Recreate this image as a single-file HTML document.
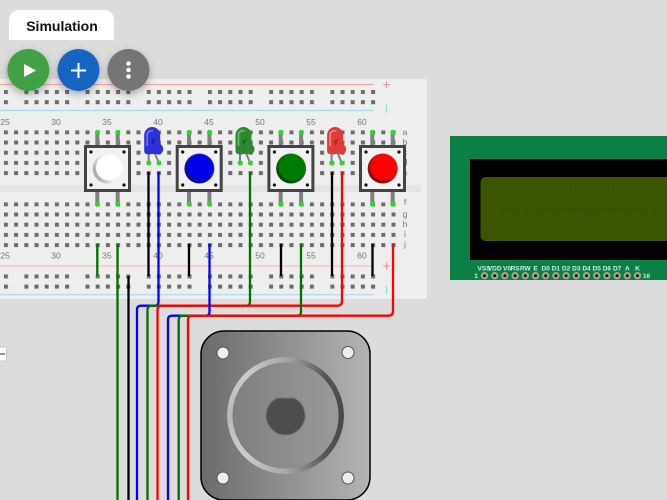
<!DOCTYPE html>
<html><head><meta charset="utf-8"><style>
html,body{margin:0;padding:0;width:667px;height:500px;overflow:hidden;background:#dcdcdc}
svg{display:block;position:absolute;left:0;top:0}
text{font-family:"Liberation Sans",sans-serif}
#ringdiv{position:absolute;left:227px;top:357px;width:117px;height:117px;border-radius:50%;
background:conic-gradient(#a8a8a8 0deg,#555 45deg,#484848 90deg,#555 135deg,#a8a8a8 180deg,#cccccc 225deg,#b8b8b8 270deg,#cccccc 315deg,#a8a8a8 360deg);
-webkit-mask-image:radial-gradient(circle,transparent 52.8px,#000 53.3px);mask-image:radial-gradient(circle,transparent 52.8px,#000 53.3px)}
</style></head><body>
<svg width="667" height="500" viewBox="0 0 667 500" xmlns="http://www.w3.org/2000/svg">
<defs>
<pattern id="u" patternUnits="userSpaceOnUse" x="3.9" y="130.300" width="10.2" height="10.2"><rect width="4" height="4" fill="#6c6c6c"/></pattern>
<pattern id="l" patternUnits="userSpaceOnUse" x="3.9" y="202.300" width="10.2" height="10.2"><rect width="4" height="4" fill="#6c6c6c"/></pattern>
<pattern id="t" patternUnits="userSpaceOnUse" x="3.9" y="90" width="10.2" height="10.2"><rect width="4" height="4" fill="#6c6c6c"/></pattern>
<pattern id="b" patternUnits="userSpaceOnUse" x="3.9" y="274.400" width="10.2" height="10.2"><rect width="4" height="4" fill="#6c6c6c"/></pattern>
<linearGradient id="m" x1="0" x2="1" y1="0" y2="0"><stop offset="0" stop-color="#6b6b6b"/><stop offset="1" stop-color="#b4b4b4"/></linearGradient>
<linearGradient id="m2" x1="0" x2="1" y1="0" y2="0"><stop offset="0" stop-color="#7f7f7f"/><stop offset="1" stop-color="#9a9a9a"/></linearGradient>
<linearGradient id="wb" x1="0" x2="1" y1="0.8" y2="0.3"><stop offset="0" stop-color="#999"/><stop offset="0.5" stop-color="#eee"/><stop offset="1" stop-color="#fff"/></linearGradient>
<linearGradient id="bb" x1="0" x2="1" y1="1" y2="0"><stop offset="0" stop-color="#00006a"/><stop offset="1" stop-color="#3030ff"/></linearGradient>
<linearGradient id="gb" x1="0" x2="1" y1="1" y2="0"><stop offset="0" stop-color="#003c00"/><stop offset="1" stop-color="#2a8a2a"/></linearGradient>
<linearGradient id="rb" x1="0" x2="1" y1="1" y2="0"><stop offset="0" stop-color="#6a0000"/><stop offset="1" stop-color="#ff3030"/></linearGradient>
<filter id="s" x="-40%" y="-40%" width="180%" height="190%"><feDropShadow dx="0" dy="3" stdDeviation="4" flood-color="#000" flood-opacity="0.3"/></filter>
<g id="btnpins">
<rect x="11.300" y="-13" width="4" height="14" fill="#808080"/><rect x="31.700" y="-13" width="4" height="14" fill="#808080"/>
<rect x="11.300" y="46" width="4" height="13" fill="#808080"/><rect x="31.700" y="46" width="4" height="13" fill="#808080"/>
<circle cx="13.300" cy="-12.700" r="2.400" fill="#22dd22"/><circle cx="33.700" cy="-12.700" r="2.400" fill="#22dd22"/>
<circle cx="13.300" cy="59.300" r="2.400" fill="#22dd22"/><circle cx="33.700" cy="59.300" r="2.400" fill="#22dd22"/>
<rect x="1.500" y="1.500" width="44" height="44" fill="#f2f2f2" stroke="#444" stroke-width="3"/>
<circle cx="7" cy="7" r="1.600" fill="#111"/><circle cx="40" cy="7" r="1.600" fill="#111"/><circle cx="7" cy="40" r="1.600" fill="#111"/><circle cx="40" cy="40" r="1.600" fill="#111"/>
</g>
</defs>

<rect width="667" height="500" fill="#dcdcdc"/>
<rect x="-6" y="79" width="433" height="220" rx="3" fill="#eeeeee"/>
<rect x="0" y="185" width="421" height="7" fill="#e4e4e4"/>
<path d="M0 84.500H374" stroke="#f4a8a8" stroke-width="1.200"/>
<path d="M0 110.500H374" stroke="#a6dcf0" stroke-width="1.200"/>
<path d="M0 266H374" stroke="#f4c0c0" stroke-width="1.200"/>
<path d="M0 294.700H374" stroke="#a6dcf0" stroke-width="1.200"/>
<path d="M383 84.500h7M386.500 81v7M383 266h7M386.500 262.500v7" stroke="#f09090" stroke-width="1"/>
<path d="M386.500 105v8M386.500 286v8" stroke="#90d8f0" stroke-width="1.200"/>

<rect x="3.900" y="130.300" width="392" height="46" fill="url(#u)"/>
<rect x="3.900" y="202.300" width="392" height="46" fill="url(#l)"/>
<g>
<rect x="3.900" y="90" width="5" height="15" fill="url(#t)"/>
<rect x="24.300" y="90" width="46" height="15" fill="url(#t)"/>
<rect x="85.500" y="90" width="46" height="15" fill="url(#t)"/>
<rect x="146.700" y="90" width="46" height="15" fill="url(#t)"/>
<rect x="207.900" y="90" width="46" height="15" fill="url(#t)"/>
<rect x="269.100" y="90" width="46" height="15" fill="url(#t)"/>
<rect x="330.300" y="90" width="46" height="15" fill="url(#t)"/>
<rect x="3.900" y="274.400" width="5" height="15" fill="url(#b)"/>
<rect x="24.300" y="274.400" width="46" height="15" fill="url(#b)"/>
<rect x="85.500" y="274.400" width="46" height="15" fill="url(#b)"/>
<rect x="146.700" y="274.400" width="46" height="15" fill="url(#b)"/>
<rect x="207.900" y="274.400" width="46" height="15" fill="url(#b)"/>
<rect x="269.100" y="274.400" width="46" height="15" fill="url(#b)"/>
<rect x="330.300" y="274.400" width="46" height="15" fill="url(#b)"/>
</g>

<g font-size="8.500" fill="#777" text-anchor="middle">
<text x="5" y="125">25</text><text x="56" y="125">30</text><text x="107" y="125">35</text><text x="158" y="125">40</text><text x="209" y="125">45</text><text x="260" y="125">50</text><text x="311" y="125">55</text><text x="362" y="125">60</text>
<text x="5" y="258.500">25</text><text x="56" y="258.500">30</text><text x="107" y="258.500">35</text><text x="158" y="258.500">40</text><text x="209" y="258.500">45</text><text x="260" y="258.500">50</text><text x="311" y="258.500">55</text><text x="362" y="258.500">60</text>
<text x="405" y="135">a</text><text x="405" y="145">b</text><text x="405" y="155">c</text><text x="405" y="165">d</text><text x="405" y="176">e</text>
<text x="405" y="205">f</text><text x="405" y="217">g</text><text x="405" y="227">h</text><text x="405" y="237">i</text><text x="405" y="247">j</text>
</g>

<g fill="none" stroke-width="2.300">
<path d="M97.300 244V276" stroke="#007000"/>
<path d="M117.500 244V500" stroke="#007000"/>
<path d="M128.500 276V500" stroke="#000"/>
<path d="M148.500 172V276" stroke="#000"/>
<path d="M189 244V276" stroke="#000"/>
<path d="M281 244V276" stroke="#000"/>
<path d="M332 172V276" stroke="#000"/>
<path d="M372.500 244V276" stroke="#000"/>
<path d="M158.500 172V302q0 3.700-3.700 3.700H141q-4 0-4 4V500" stroke="#0000ff"/>
<path d="M250 172V302q0 3.700-3.700 3.700H151.500q-4 0-4 4V500" stroke="#007000"/>
<path d="M342 172V301q0 4.700-4.700 4.700H161.500q-4 0-4 4V500" stroke="#ff0000"/>
<path d="M209.500 244V312q0 3.700-3.700 3.700H172q-4 0-4 4V500" stroke="#0000ff"/>
<path d="M301 244V312q0 3.700-3.700 3.700H182.700q-4 0-4 4V500" stroke="#007000"/>
<path d="M393 244V311q0 4.700-4.700 4.700H192q-4 0-4 4V500" stroke="#ff0000"/>
</g>

<g transform="translate(84 145)"><use href="#btnpins"/><circle cx="23.700" cy="23.500" r="15" fill="url(#wb)"/><circle cx="24.500" cy="22.800" r="12.500" fill="#fff"/></g>
<g transform="translate(175.700 145)"><use href="#btnpins"/><circle cx="23.700" cy="23.500" r="15" fill="url(#bb)"/><circle cx="24.500" cy="22.500" r="13" fill="#0000e8"/></g>
<g transform="translate(267.400 145)"><use href="#btnpins"/><circle cx="23.700" cy="23.500" r="15" fill="url(#gb)"/><circle cx="24.500" cy="22.500" r="13" fill="#007a00"/></g>
<g transform="translate(359 145)"><use href="#btnpins"/><circle cx="23.700" cy="23.500" r="15" fill="url(#rb)"/><circle cx="24.500" cy="22.500" r="13" fill="#ff0000"/></g>

<g transform="translate(148.700 163)">
<path d="M0 0L0-10M10.200 0L6-10" stroke="#808080" stroke-width="2" fill="none"/>
<path d="M-4.500-12V-28a8 8 0 0 1 16 0V-19q3 2 3 5.500t-4 4.500H-1.500q-3 0-3-3z" fill="#3030d8"/>
<path d="M-1.500-17V-29a4.500 5 0 0 1 6-3" stroke="#7a7af0" stroke-width="1.500" fill="none"/>
<path d="M2-22l5-3-3 8z" fill="#2020a0"/>
<circle cx="0" cy="0" r="2.400" fill="#22dd22"/><circle cx="10.200" cy="0" r="2.400" fill="#22dd22"/>
</g>
<g transform="translate(240 163)">
<path d="M0 0L0-10M10.200 0L6-10" stroke="#808080" stroke-width="2" fill="none"/>
<path d="M-4.500-12V-28a8 8 0 0 1 16 0V-19q3 2 3 5.500t-4 4.500H-1.500q-3 0-3-3z" fill="#2f8a2f"/>
<path d="M-1.500-17V-29a4.500 5 0 0 1 6-3" stroke="#70c070" stroke-width="1.500" fill="none"/>
<path d="M2-22l5-3-3 8z" fill="#1f6a1f"/>
<circle cx="0" cy="0" r="2.400" fill="#22dd22"/><circle cx="10.200" cy="0" r="2.400" fill="#22dd22"/>
</g>
<g transform="translate(331.600 163)">
<path d="M0 0L0-10M10.200 0L6-10" stroke="#808080" stroke-width="2" fill="none"/>
<path d="M-4.500-12V-28a8 8 0 0 1 16 0V-19q3 2 3 5.500t-4 4.500H-1.500q-3 0-3-3z" fill="#e03a3a"/>
<path d="M-1.500-17V-29a4.500 5 0 0 1 6-3" stroke="#f49090" stroke-width="1.500" fill="none"/>
<path d="M2-22l5-3-3 8z" fill="#b82828"/>
<circle cx="0" cy="0" r="2.400" fill="#22dd22"/><circle cx="10.200" cy="0" r="2.400" fill="#22dd22"/>
</g>

<rect x="201" y="331" width="169" height="169" rx="23" fill="url(#m)" stroke="#000" stroke-width="1.500"/>
<g fill="#eeeeee" stroke="#555" stroke-width="1">
<circle cx="223" cy="353" r="6"/><circle cx="348" cy="352.500" r="6"/><circle cx="223" cy="478" r="6"/><circle cx="348" cy="478" r="6"/>
</g>
<circle cx="285.500" cy="415.500" r="53" fill="url(#m2)"/>
<path d="M277 398H294A19.500 19.500 0 1 1 277 398Z" fill="#4d4d4d" stroke="#777" stroke-width="1"/>

<rect x="450" y="136" width="230" height="144" fill="#0a7f46"/>
<rect x="470" y="159" width="210" height="101" fill="#000"/>
<rect x="480.500" y="177" width="200" height="64" rx="5" fill="#3c5500"/>
<path d="M500.500 185V233M514 185V233M528 185V233M542 185V233M556 185V233M571 185V233M585 185V233M599 185V233M613 185V233M628 185V233M642 185V233M656 185V233M500 209H667" stroke="#395100" stroke-width="1" fill="none"/>
<g fill="#a8a488">
<circle cx="484.500" cy="275.700" r="3.700"/><circle cx="494.700" cy="275.700" r="3.700"/><circle cx="504.900" cy="275.700" r="3.700"/><circle cx="515.100" cy="275.700" r="3.700"/><circle cx="525.300" cy="275.700" r="3.700"/><circle cx="535.500" cy="275.700" r="3.700"/><circle cx="545.700" cy="275.700" r="3.700"/><circle cx="555.900" cy="275.700" r="3.700"/><circle cx="566.100" cy="275.700" r="3.700"/><circle cx="576.300" cy="275.700" r="3.700"/><circle cx="586.500" cy="275.700" r="3.700"/><circle cx="596.700" cy="275.700" r="3.700"/><circle cx="606.900" cy="275.700" r="3.700"/><circle cx="617.100" cy="275.700" r="3.700"/><circle cx="627.300" cy="275.700" r="3.700"/><circle cx="637.500" cy="275.700" r="3.700"/>
</g>
<g fill="#111">
<circle cx="484.500" cy="275.700" r="1.500"/><circle cx="494.700" cy="275.700" r="1.500"/><circle cx="504.900" cy="275.700" r="1.500"/><circle cx="515.100" cy="275.700" r="1.500"/><circle cx="525.300" cy="275.700" r="1.500"/><circle cx="535.500" cy="275.700" r="1.500"/><circle cx="545.700" cy="275.700" r="1.500"/><circle cx="555.900" cy="275.700" r="1.500"/><circle cx="566.100" cy="275.700" r="1.500"/><circle cx="576.300" cy="275.700" r="1.500"/><circle cx="586.500" cy="275.700" r="1.500"/><circle cx="596.700" cy="275.700" r="1.500"/><circle cx="606.900" cy="275.700" r="1.500"/><circle cx="617.100" cy="275.700" r="1.500"/><circle cx="627.300" cy="275.700" r="1.500"/><circle cx="637.500" cy="275.700" r="1.500"/>
</g>
<g font-size="6.500" font-weight="bold" fill="#cfeee8" text-anchor="middle">
<text x="484" y="270.500">VSS</text><text x="494.700" y="270.500">VDD</text><text x="507" y="270.500">V0</text><text x="515.100" y="270.500">RS</text><text x="525.300" y="270.500">RW</text><text x="535.500" y="270.500">E</text><text x="545.700" y="270.500">D0</text><text x="555.900" y="270.500">D1</text><text x="566.100" y="270.500">D2</text><text x="576.300" y="270.500">D3</text><text x="586.500" y="270.500">D4</text><text x="596.700" y="270.500">D5</text><text x="606.900" y="270.500">D6</text><text x="617.100" y="270.500">D7</text><text x="627.300" y="270.500">A</text><text x="637.500" y="270.500">K</text>
<text x="476" y="278">1</text><text x="646.500" y="278">16</text>
</g>

<path d="M9 40V20a10 10 0 0 1 10-10H104a10 10 0 0 1 10 10V40Z" fill="#fff"/>
<text x="62" y="31" font-size="14" font-weight="bold" fill="#111" text-anchor="middle">Simulation</text>

<circle cx="28.300" cy="70" r="21" fill="#43a047" filter="url(#s)"/>
<path d="M24 64V77L36 70.500Z" fill="#fff"/>
<circle cx="78.500" cy="70" r="21" fill="#1565c0" filter="url(#s)"/>
<path d="M71 70.500H86M78.500 63V78" stroke="#fff" stroke-width="2"/>
<circle cx="128.500" cy="70" r="21" fill="#757575" filter="url(#s)"/>
<circle cx="128.500" cy="63.500" r="2.300" fill="#fff"/><circle cx="128.500" cy="70" r="2.300" fill="#fff"/><circle cx="128.500" cy="76.500" r="2.300" fill="#fff"/>

<rect x="-2" y="347" width="8.500" height="14" fill="#fff" stroke="#c8c8c8"/>
<path d="M0 354H5" stroke="#222" stroke-width="1"/>
</svg>
<div id="ringdiv"></div>
</body></html>
